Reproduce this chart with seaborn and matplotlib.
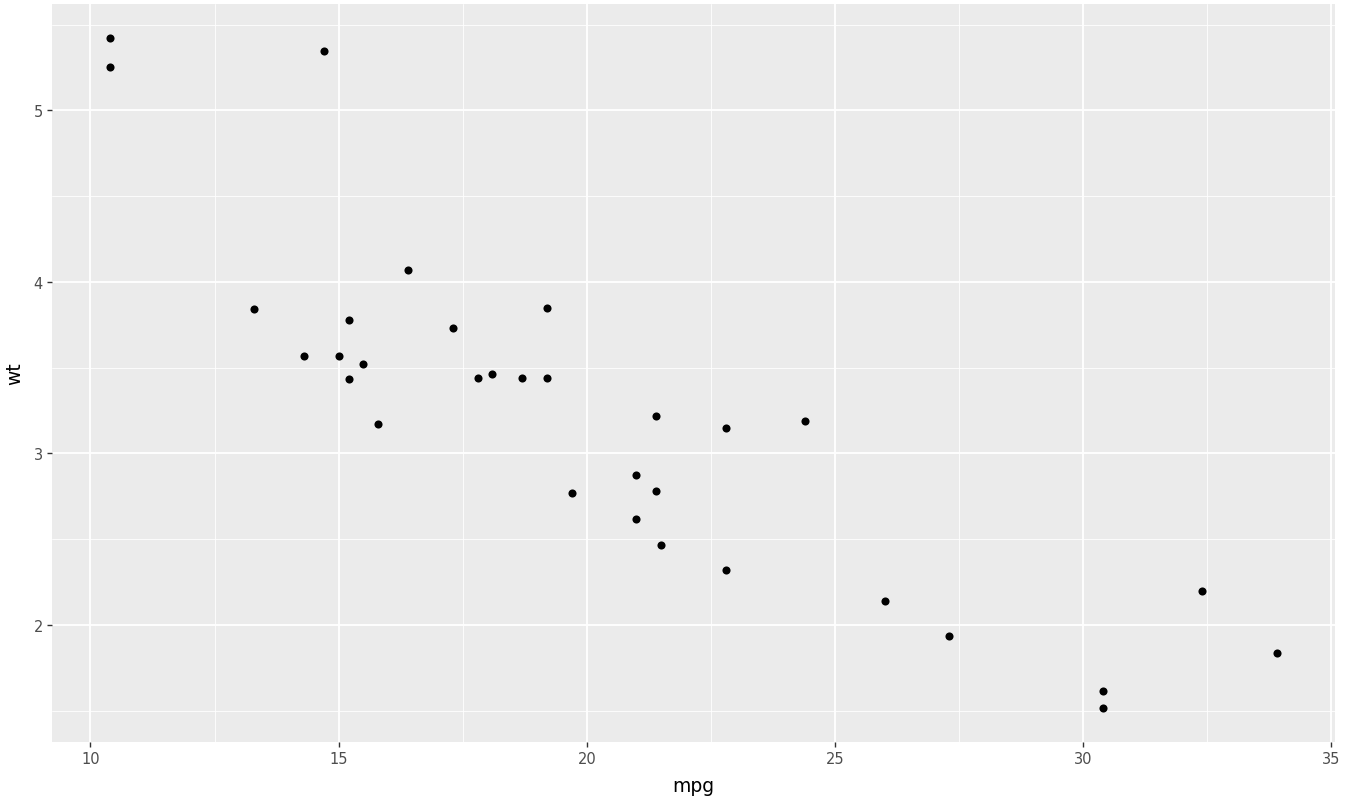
import numpy as np
import pandas as pd
import matplotlib
matplotlib.use('Agg')
import matplotlib.pyplot as plt
import seaborn as sns
from matplotlib.ticker import MultipleLocator

# mtcars: miles per gallon and weight (1000 lbs)
mpg = [21.0, 21.0, 22.8, 21.4, 18.7, 18.1, 14.3, 24.4, 22.8, 19.2, 17.8,
       16.4, 17.3, 15.2, 10.4, 10.4, 14.7, 32.4, 30.4, 33.9, 21.5, 15.5,
       15.2, 13.3, 19.2, 27.3, 26.0, 30.4, 15.8, 19.7, 15.0, 21.4]
wt = [2.620, 2.875, 2.320, 3.215, 3.440, 3.460, 3.570, 3.190, 3.150, 3.440,
      3.440, 4.070, 3.730, 3.780, 5.250, 5.424, 5.345, 2.200, 1.615, 1.835,
      2.465, 3.520, 3.435, 3.840, 3.845, 1.935, 2.140, 1.513, 3.170, 2.770,
      3.570, 2.780]

df = pd.DataFrame({'mpg': mpg, 'wt': wt})

sns.set_theme(style='darkgrid', rc={
    'axes.facecolor': '#EBEBEB',
    'grid.color': 'white',
    'axes.edgecolor': 'none',
})
plt.rcParams['font.family'] = ['DejaVu Sans']

fig = plt.figure(figsize=(13.5, 8.12), dpi=100)
ax = fig.add_axes([52 / 1350, 1 - 743 / 812, (1335 - 52) / 1350, (743 - 5) / 812])

sns.scatterplot(data=df, x='mpg', y='wt', ax=ax, color='black', s=34,
                linewidth=0, zorder=3)

# ggplot-style 5% expansion
xr = max(mpg) - min(mpg)
yr = max(wt) - min(wt)
ax.set_xlim(min(mpg) - 0.05 * xr, max(mpg) + 0.05 * xr)
ax.set_ylim(min(wt) - 0.05 * yr, max(wt) + 0.05 * yr)

ax.xaxis.set_major_locator(MultipleLocator(5))
ax.xaxis.set_minor_locator(MultipleLocator(2.5))
ax.yaxis.set_major_locator(MultipleLocator(1))
ax.yaxis.set_minor_locator(MultipleLocator(0.5))
ax.grid(which='major', color='white', linewidth=1.3)
ax.grid(which='minor', color='white', linewidth=0.6)
ax.set_axisbelow(True)

ax.tick_params(axis='both', which='major', length=3.5, width=1.0,
               color='#333333', labelcolor='#4D4D4D', labelsize=10.5, pad=3,
               bottom=True, left=True)
ax.tick_params(axis='both', which='minor', length=0)

ax.set_xlabel('mpg', fontsize=13.5, color='black', labelpad=7)
ax.set_ylabel('wt', fontsize=13.5, color='black', labelpad=7)

fig.savefig('out.png', dpi=100)
